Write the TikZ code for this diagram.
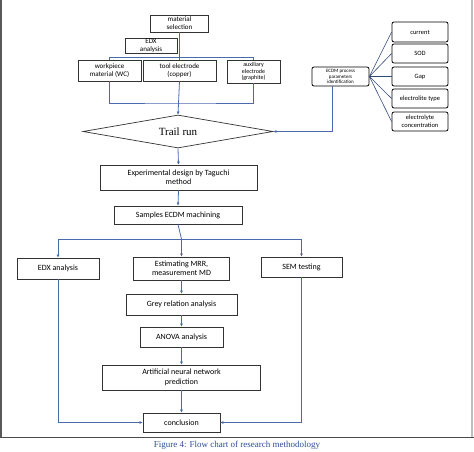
\documentclass[tikz,border=0pt]{standalone}
\usepackage{fontspec}
\setmainfont{Carlito}
\newfontfamily\seriffont{Liberation Serif}
\usetikzlibrary{shapes.geometric,arrows.meta}
\definecolor{flowblue}{RGB}{74,106,170}
\definecolor{capblue}{RGB}{45,75,150}

\begin{document}
\begin{tikzpicture}[x=1pt,y=-1pt,
    box/.style={draw=black!80,line width=0.7pt,align=center,inner sep=0pt,font=\fontsize{8}{9.5}\selectfont},
    smallbox/.style={box,font=\fontsize{7}{8}\selectfont},
    parambox/.style={draw=black,line width=0.8pt,rounded corners=2pt,align=center,inner sep=0pt,
        minimum width=56pt,minimum height=19pt,font=\fontsize{6.5}{7.5}\selectfont},
    flow/.style={draw=flowblue,line width=0.8pt},
    arr/.style={flow,-{Latex[length=3pt,width=3pt]}}]
\useasboundingbox (0,0) rectangle (474,452);
\draw[black!65,line width=2pt] (1,0) -- (1,437);
\draw[black!25,line width=1.5pt] (472,0) -- (472,437);
\draw[black!70,line width=1pt] (0,437) -- (474,437);

\node[smallbox,minimum width=58pt,minimum height=17pt] (matsel) at (179.5,23.5) {material\\selection};
\node[smallbox,minimum width=52pt,minimum height=15pt] (edxtop) at (151,45.5) {EDX\\analysis};
\node[smallbox,minimum width=63pt,minimum height=21pt] (work) at (109.5,70.5) {workpiece\\material (WC)};
\node[smallbox,minimum width=73pt,minimum height=21pt] (tool) at (179.5,70.5) {tool electrode\\(copper)};
\node[smallbox,minimum width=53pt,minimum height=23pt,font=\fontsize{6}{6.6}\selectfont] (aux) at (253.5,71.5) {auxiliary\\electrode\\(graphite)};

\node[parambox,minimum width=57pt,font=\fontsize{5}{5.6}\selectfont] (ecdm) at (340.5,76.5) {ECDM process\\parameters\\identification};
\node[parambox,minimum height=20pt] (cur) at (420,32) {current};
\node[parambox] (sod) at (420,53.5) {SOD};
\node[parambox] (gap) at (420,76.5) {Gap};
\node[parambox] (etype) at (420,98.5) {electrolite type};
\node[parambox] (econc) at (420,121.5) {electrolyte\\concentration};

\node[draw=black!80,line width=0.7pt,shape=diamond,inner sep=0pt,aspect=5.8,
    minimum width=190pt,minimum height=33pt,font=\seriffont\fontsize{11}{12}\selectfont] (trail) at (178,131.5) {Trail run};

\node[box,minimum width=157pt,minimum height=25pt] (design) at (178.5,177.5) {Experimental design by Taguchi\\method};
\node[box,minimum width=128pt,minimum height=18pt] (samples) at (178,215) {Samples ECDM machining};
\node[box,minimum width=82pt,minimum height=21pt] (edxlow) at (58,268.5) {EDX analysis};
\node[box,minimum width=96pt,minimum height=23pt] (mrr) at (181.5,268.5) {Estimating MRR,\\measurement MD};
\node[box,minimum width=81pt,minimum height=20pt] (sem) at (301.5,267) {SEM testing};
\node[box,minimum width=111pt,minimum height=21pt] (grey) at (181.5,304.5) {Grey relation analysis};
\node[box,minimum width=83pt,minimum height=20pt] (anova) at (181.5,337) {ANOVA analysis};
\node[box,minimum width=158pt,minimum height=25pt] (ann) at (181.5,377.5) {Artificial neural network\\prediction};
\node[box,minimum width=77pt,minimum height=19pt] (concl) at (181.5,422.5) {conclusion};

\node[text=capblue,inner sep=0pt,font=\seriffont\fontsize{9}{10}\selectfont] (caption) at (237,445.5) {Figure 4: Flow chart of research methodology};

\coordinate (split) at (179.5,57);
\coordinate (merge) at (179.5,103);
\coordinate (fork) at (181.5,239);

\draw[flow] (matsel.south) -- (tool.north);
\draw[flow] (work.north) -- (work.north |- split) -- (aux.north |- split) -- (aux.north);
\draw[flow] (work.south) |- (merge) -| (aux.south);
\draw[arr] (tool.south) -- (trail.north);
\draw[arr] ([xshift=-8.5pt]ecdm.south) |- (trail.east);
\foreach \p in {cur,sod,gap,etype,econc}
    \draw[flow,draw=flowblue!70!black,line width=0.6pt] (ecdm.east) -- (\p.west);

\draw[arr] (trail.south) -- (design.north);
\draw[arr] (design.south) -- (samples.north);
\draw[flow] (samples.south) -- (fork);
\draw[arr] (fork) -| (edxlow.north);
\draw[arr] (fork) -| (sem.north);
\draw[arr] (fork) -- (mrr.north);
\draw[arr] (mrr.south) -- (grey.north);
\draw[arr] (grey.south) -- (anova.north);
\draw[arr] (anova.south) -- (ann.north);
\draw[arr] (ann.south) -- (concl.north);
\draw[arr] (edxlow.south) |- (concl.west);
\draw[arr] (sem.south) |- (concl.east);
\end{tikzpicture}
\end{document}
